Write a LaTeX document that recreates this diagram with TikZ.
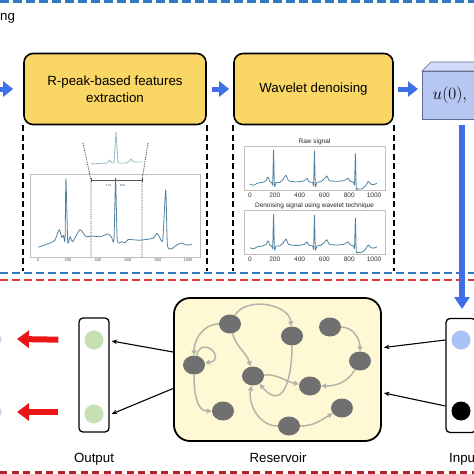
\documentclass[tikz,border=0pt]{standalone}
\usepackage{fontspec}
\setmainfont{Liberation Sans}
\usetikzlibrary{arrows.meta,shapes.geometric,calc}
\definecolor{boxyellow}{RGB}{250,214,100}
\definecolor{arrowblue}{RGB}{62,110,232}
\definecolor{dashblue}{RGB}{52,120,190}
\definecolor{dashred}{RGB}{222,60,60}
\definecolor{darkred}{RGB}{178,32,40}
\definecolor{resfill}{RGB}{255,248,212}
\definecolor{nodegray}{RGB}{112,112,112}
\definecolor{edgegray}{RGB}{180,180,170}
\definecolor{ufront}{RGB}{182,200,242}
\definecolor{utopc}{RGB}{208,220,248}
\definecolor{uedge}{RGB}{95,105,140}
\definecolor{sigc}{RGB}{80,130,160}
\definecolor{insetc}{RGB}{160,190,200}
\definecolor{framec}{RGB}{190,190,190}
\definecolor{outgreen}{RGB}{198,224,180}
\definecolor{inblue}{RGB}{170,195,245}
\definecolor{redarr}{RGB}{232,22,22}
\definecolor{pale}{RGB}{215,212,238}
\newcommand\ecgA{plot[smooth,tension=0.35] coordinates {(2,0.04) (80,0.1) (112,0.14) (141,0.29) (157,0.18) (168,0.21) (179,0.14) (185,1.02) (197,0.12) (212,0.19) (230,0.12) (278,0.29) (318,0.19) (355,0.2) (411,0.19) (466,0.23) (488,0.18) (503,0.14) (514,1.01) (525,0.14) (554,0.12) (576,0.1) (598,0.15) (675,0.14) (764,0.17) (786,0.24) (804,0.19) (826,0.14) (846,0.86) (857,0.07) (885,0.02) (918,0.07) (951,0.1) (985,0.07) (1018,0.08)}}
\newcommand\ecgB{plot[smooth,tension=0.35] coordinates {(0,0.05) (30,0.02) (60,0.08) (100,0.1) (130,0.15) (145,0.25) (160,0.12) (175,0.1) (183,0.05) (190,1) (197,0.0) (210,0.1) (240,0.1) (270,0.2) (290,0.3) (310,0.15) (350,0.12) (400,0.12) (440,0.15) (460,0.22) (475,0.12) (505,0.1) (513,0.03) (520,0.98) (527,0.0) (540,0.1) (570,0.12) (600,0.2) (620,0.28) (640,0.15) (700,0.13) (760,0.15) (790,0.22) (805,0.14) (835,0.1) (843,0.05) (850,0.9) (857,-0.05) (870,-0.08) (900,-0.08) (930,0.0) (955,0.13) (975,0.05) (1000,0.04) (1024,0.08)}}
\begin{document}
\begin{tikzpicture}[x=1pt,y=-1pt,
  ybox/.style={draw=black,line width=1.6pt,fill=boxyellow,rounded corners=9pt,align=center,inner sep=0pt,font=\fontsize{13.3}{16.5}\selectfont},
  bluearr/.style={draw=arrowblue,line width=5pt,-{Triangle[length=10pt,width=15pt]}},
  vdash/.style={draw=black,line width=1.6pt,dash pattern=on 6pt off 3.5pt},
  frame/.style={draw=framec,line width=0.9pt,inner sep=0pt},
  sig/.style={draw=sigc,line width=0.8pt,line join=round},
  tickA/.style={font=\fontsize{4}{4}\selectfont,text=black!70,inner sep=0pt},
  tickB/.style={font=\fontsize{6.5}{7}\selectfont,text=black!80,inner sep=0pt},
  ttl/.style={font=\fontsize{6.5}{7}\selectfont,text=black!85,inner sep=0pt},
  lbl/.style={font=\fontsize{13.3}{16}\selectfont,inner sep=0pt,anchor=base},
  colbox/.style={draw=black,line width=1.3pt,fill=white,rounded corners=4pt,minimum width=30pt,minimum height=114pt,inner sep=0pt},
  unit/.style={circle,minimum size=19pt,inner sep=0pt,draw=none},
  rnode/.style={ellipse,fill=nodegray,minimum width=22pt,minimum height=19pt,inner sep=0pt,draw=none},
  redge/.style={draw=edgegray,line width=1.5pt,-{Triangle[length=5pt,width=5pt]}},
  thinarr/.style={draw=black,line width=1.1pt,-{Stealth[length=5.5pt,width=4.5pt]}},
  redarrow/.style={draw=redarr,line width=6pt,-{Triangle[length=12pt,width=17pt]}},
  ubox/.style={draw=uedge,line width=0.6pt,fill=ufront,inner sep=0pt}
]
\useasboundingbox (0,0) rectangle (474,474);
\clip (0,0) rectangle (474,474);
\fill[white] (0,0) rectangle (474,474);

% separators
\draw[dashblue,line width=3pt,dash pattern=on 9pt off 4pt] (0,1.3) -- (474,1.3);
\draw[dashblue,line width=1.6pt,dash pattern=on 8pt off 4pt] (0,273) -- (474,273);
\draw[dashred,line width=1.6pt,dash pattern=on 8pt off 4pt] (0,280) -- (474,280);
\draw[darkred,line width=3pt,dash pattern=on 7pt off 4.5pt] (0,472) -- (474,472);

\node[anchor=base west,inner sep=0pt,font=\fontsize{13.3}{16}\selectfont] (ng) at (0,20) {ng};

% top boxes
\node[ybox,minimum width=182pt,minimum height=71pt] (rp) at (115,89) {R-peak-based features\\extraction};
\node[ybox,minimum width=159pt,minimum height=71pt] (wd) at (313.5,89) {Wavelet denoising};
\node[ubox,minimum width=70pt,minimum height=48pt,anchor=north west] (u) at (422,71) {};
\filldraw[fill=utopc,draw=uedge,line width=0.6pt] (u.north west) -- ++(9,-9) -- ++(80,0) -- (u.north east) -- cycle;
\node[anchor=base west,inner sep=0pt,font=\fontsize{19}{22}\selectfont] (ut) at (432.5,99) {$u(0),$};

\coordinate (lb) at (-4,89);
\draw[bluearr,shorten >=10pt] (lb) -- (rp.west);
\draw[bluearr,shorten <=5pt,shorten >=4pt] (rp.east) -- (wd.west);
\draw[bluearr,shorten <=4pt,shorten >=4pt] (wd.east) -- (wd.east -| u.west);
\coordinate (vt) at (462,309);
\draw[draw=arrowblue,line width=5.5pt,-{Triangle[length=12pt,width=15pt]},shorten <=5pt] (u.south -| vt) -- (vt);

% dashed drop lines
\draw[vdash] (rp.south west) -- ++(0,146);
\draw[vdash] (rp.south east) -- ++(0,146);
\draw[vdash] (wd.south west) -- ++(0,146);
\draw[vdash] (wd.south east) -- ++(0,146);

% panel 1 : R-peak features
\node[frame,minimum width=170pt,minimum height=83pt] (f1) at (115,215.5) {};
\begin{scope}[shift={(38,250)},xscale=0.151,yscale=-70]
  \draw[sig] \ecgA;
\end{scope}
\foreach \v/\p in {0/38,200/68,400/98,600/128,800/158,1000/188}
  \node[tickA] at (\p,260.5) {\v};
\draw[insetc,line width=0.9pt,line join=round] (91,164) -- (107,163) -- (109.5,160) -- (112,163) -- (114,163) -- (116,132) -- (118,163) -- (127,163) -- (131,159) -- (133.5,162) -- (142,162);
\draw[black!80,line width=0.8pt,densely dotted] (83,143) -- (91,180) -- (91,257);
\draw[black!80,line width=0.8pt,densely dotted] (148,143) -- (142,180) -- (142,257);
\draw[black!65,line width=1pt] (91,180) -- (142,180);
\draw[black!65,line width=0.8pt] (91,178) -- (91,182) (115.5,178) -- (115.5,182) (142,178) -- (142,182);
\node[tickA,font=\fontsize{3}{3}\selectfont] at (108.5,185.5) {179};
\node[tickA,font=\fontsize{3}{3}\selectfont] at (122.5,185.5) {180};

% panel 2 : wavelet denoising
\node[ttl] at (314.5,142) {Raw signal};
\node[frame,minimum width=141pt,minimum height=44pt] (f2) at (314.5,168) {};
\begin{scope}[shift={(250,186)},xscale=0.124,yscale=-36]
  \draw[sig] \ecgB;
\end{scope}
\node[ttl] at (314.5,206) {Denoising signal using wavelet technique};
\node[frame,minimum width=141pt,minimum height=44pt] (f3) at (314.5,232) {};
\begin{scope}[shift={(250,249.5)},xscale=0.124,yscale=-35]
  \draw[sig] \ecgB;
\end{scope}
\foreach \v/\p in {0/250,200/274.8,400/299.6,600/324.4,800/349.2,1000/374}{
  \node[tickB] at (\p,195) {\v};
  \node[tickB] at (\p,259) {\v};
}

% bottom: reservoir computing
\fill[pale] (-4,339.5) ellipse (6 and 5);
\fill[pale] (-4,412) ellipse (6 and 5);
\node[colbox] (out) at (94,375) {};
\node[unit,fill=outgreen] (o1) at (94,340) {};
\node[unit,fill=outgreen] (o2) at (94,414) {};
\node[lbl] (outl) at (94,462) {Output};

\node[colbox] (in) at (461,375.5) {};
\node[unit,fill=inblue] (i1) at (461,340) {};
\node[unit,fill=black] (i2) at (461,411) {};
\node[lbl,anchor=base west] (inl) at (449,462) {Inpu};

\node[draw=black,line width=1.8pt,fill=resfill,rounded corners=16pt,minimum width=207pt,minimum height=143pt,inner sep=0pt] (res) at (277.5,369.5) {};
\node[lbl] (resl) at (278,462) {Reservoir};

\coordinate (r1) at (17,339);
\coordinate (r2) at (17,412);
\draw[redarrow,shorten <=20pt] (o1 -| out.west) -- (r1);
\draw[redarrow,shorten <=20pt] ($(o2 -| out.west)+(0,-2)$) -- (r2);

\draw[thinarr] ($(res.west)+(0,-17.5)$) -- ($(out.east |- o1)+(2,1)$);
\draw[thinarr] ($(res.west)+(0,19)$) -- ($(out.east |- o2)+(2,0)$);
\draw[thinarr] (in.west |- i1) -- ($(res.east)+(2,-22)$);
\draw[thinarr] ($(in.west |- i2)+(0,-5)$) -- ($(res.east)+(2,23.5)$);

\node[rnode] (A) at (230,324) {};
\node[rnode] (B) at (292,336) {};
\node[rnode] (C) at (330,327) {};
\node[rnode] (D) at (194,365) {};
\node[rnode] (E) at (253,376) {};
\node[rnode] (F) at (310,386) {};
\node[rnode] (G) at (223,411) {};
\node[rnode] (H) at (360,361) {};
\node[rnode] (I) at (342,408) {};
\node[rnode] (J) at (289,426) {};

\draw[redge] (A) to[out=60,in=95] (B);
\draw[redge] (A) to[out=180,in=90] (D);
\draw[redge] (D) to[out=75,in=10,looseness=5,min distance=13pt] (D);
\draw[redge] (A) to[out=-75,in=105] (E);
\draw[redge] (D) to[out=-90,in=180] (G);
\draw[redge] (E) to[out=5,in=170] (F);
\draw[redge] (B) to[out=-90,in=-50,looseness=1.8] (E);
\draw[redge] (H) to[out=-120,in=0] (F);
\draw[redge] (C) to[out=0,in=90] (H);
\draw[redge] (J) to[out=0,in=-150] (I);
\draw[redge] (J) to[out=180,in=-100] (E);
\end{tikzpicture}
\end{document}
